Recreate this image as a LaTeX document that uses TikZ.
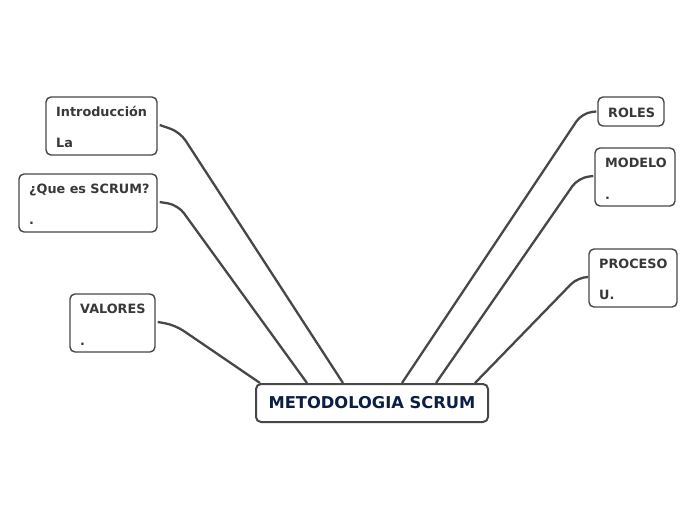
\documentclass[tikz,border=0pt]{standalone}
\usepackage{fontspec}
\setmainfont{DejaVu Sans}
\begin{document}
\begin{tikzpicture}[x=1pt,y=-1pt,
 box/.style={draw=black!72,line width=1.4pt,rounded corners=5pt,inner sep=0pt},
 txt/.style={anchor=base west,inner sep=0pt,font=\bfseries\fontsize{12.8}{14}\selectfont,text=black!78},
 con/.style={draw=black!72,line width=2.3pt,rounded corners=10pt}]
\useasboundingbox (0,0) rectangle (696,520);
\node[box,minimum width=232pt,minimum height=38pt,line width=2pt,font=\bfseries\fontsize{16.3}{18}\selectfont,text={rgb,255:red,10;green,30;blue,70}] (c) at (372,403) {METODOLOGIA SCRUM};
\node[box,minimum width=111pt,minimum height=58pt] (i) at (101.5,126) {};
\node[box,minimum width=138pt,minimum height=58pt] (q) at (88,203) {};
\node[box,minimum width=85pt,minimum height=58pt] (v) at (112.5,323) {};
\node[box,minimum width=66pt,minimum height=29pt] (r) at (631,111.5) {};
\node[box,minimum width=80pt,minimum height=58pt] (m) at (635,177) {};
\node[box,minimum width=88pt,minimum height=58pt] (p) at (633,278) {};
\node[txt] (ti1) at (56,116) {Introducción};
\node[txt] (ti2) at (56,147) {La};
\node[txt] (tq1) at (29,193) {¿Que es SCRUM?};
\node[txt] (tq2) at (29,224) {.};
\node[txt] (tv1) at (80,313) {VALORES};
\node[txt] (tv2) at (80,345) {.};
\node[txt] (tr1) at (608,117) {ROLES};
\node[txt] (tm1) at (605,167) {MODELO};
\node[txt] (tm2) at (605,199) {.};
\node[txt] (tp1) at (599,268) {PROCESO};
\node[txt] (tp2) at (599,299) {U.};
\draw[con] ([xshift=-29pt]c.north) -- ++(-163,-251) -- ([xshift=2pt,yshift=1pt]i.east);
\draw[con] ([xshift=-65pt]c.north) -- ++(-129,-178) -- ([xshift=2pt,yshift=1pt]q.east);
\draw[con] ([xshift=-112pt]c.north) -- ++(-85,-58) -- ([xshift=2pt,yshift=1pt]v.east);
\draw[con] ([xshift=30pt]c.north) -- ++(180,-270) -- ([xshift=-1pt]r.west);
\draw[con] ([xshift=64pt]c.north) -- ++(142,-205) -- ([xshift=-1pt,yshift=1pt]m.west);
\draw[con] ([xshift=103pt]c.north) -- ++(103,-106) -- ([xshift=-1pt,yshift=1pt]p.west);
\end{tikzpicture}
\end{document}
